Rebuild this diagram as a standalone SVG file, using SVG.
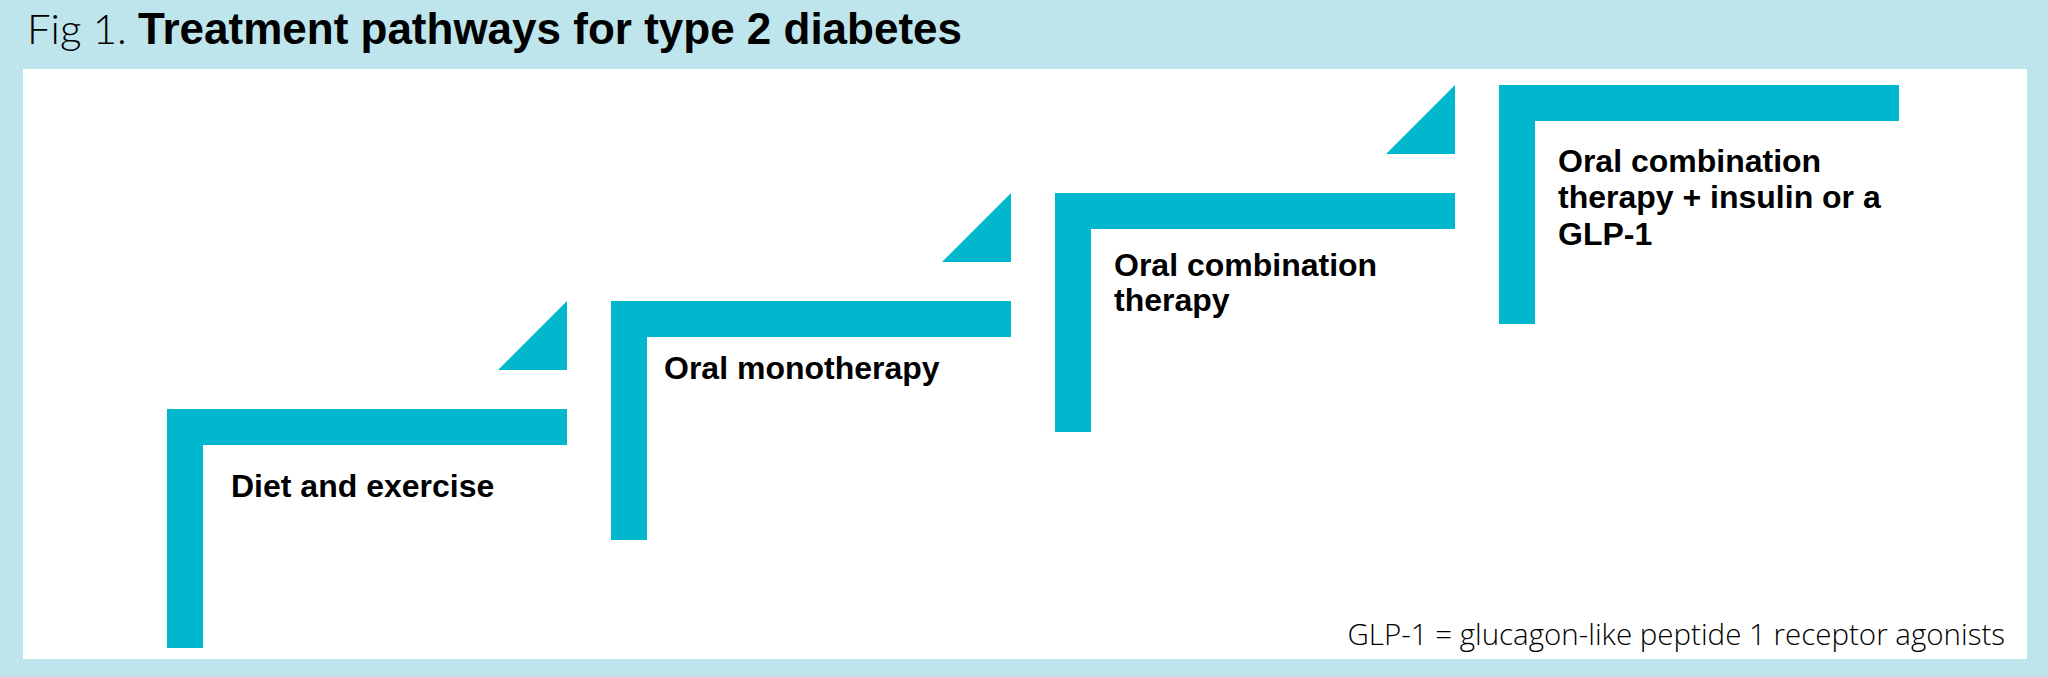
<svg xmlns="http://www.w3.org/2000/svg" width="2048" height="677" viewBox="0 0 2048 677">
<style>
.bar{fill:#00B7CD}
.tri{fill:#00B7CD}
.lbl{font-family:"Liberation Sans",Arial,sans-serif;font-weight:bold;font-size:32px;fill:#000}
.title{font-family:"Liberation Sans",Arial,sans-serif;font-weight:bold;font-size:44px;fill:#000}
.fig{font-family:Lato,"Liberation Sans",sans-serif;font-weight:300;font-size:42px;fill:#000}
.note{font-family:"Open Sans","Liberation Sans",sans-serif;font-weight:300;font-size:29.5px;fill:#000}
</style>
<rect x="0" y="0" width="2048" height="677" fill="#BEE4EC"/>
<rect x="23" y="69" width="2004" height="590" fill="#FFFFFF"/>
<text x="27" y="44" class="fig">Fig 1.</text>
<text x="138" y="44" class="title">Treatment pathways for type 2 diabetes</text>
<g id="connectors">
<polygon class="tri" points="567,301 567,370 498,370"/>
<polygon class="tri" points="1011,193 1011,262 942,262"/>
<polygon class="tri" points="1455,85 1455,154 1386,154"/>
</g>
<g id="step1">
<path class="bar" d="M167,409 H567 V445 H203 V648 H167 Z"/>
<text x="231" y="497" class="lbl">Diet and exercise</text>
</g>
<g id="step2">
<path class="bar" d="M611,301 H1011 V337 H647 V540 H611 Z"/>
<text x="664" y="379" class="lbl">Oral monotherapy</text>
</g>
<g id="step3">
<path class="bar" d="M1055,193 H1455 V229 H1091 V432 H1055 Z"/>
<text x="1114" y="276" class="lbl">Oral combination</text>
<text x="1114" y="311" class="lbl">therapy</text>
</g>
<g id="step4">
<path class="bar" d="M1499,85 H1899 V121 H1535 V324 H1499 Z"/>
<text x="1558" y="172" class="lbl">Oral combination</text>
<text x="1558" y="208" class="lbl">therapy + insulin or a</text>
<text x="1558" y="245" class="lbl">GLP-1</text>
</g>
<text x="2005" y="645" class="note" text-anchor="end">GLP-1 = glucagon-like peptide 1 receptor agonists</text>
</svg>
